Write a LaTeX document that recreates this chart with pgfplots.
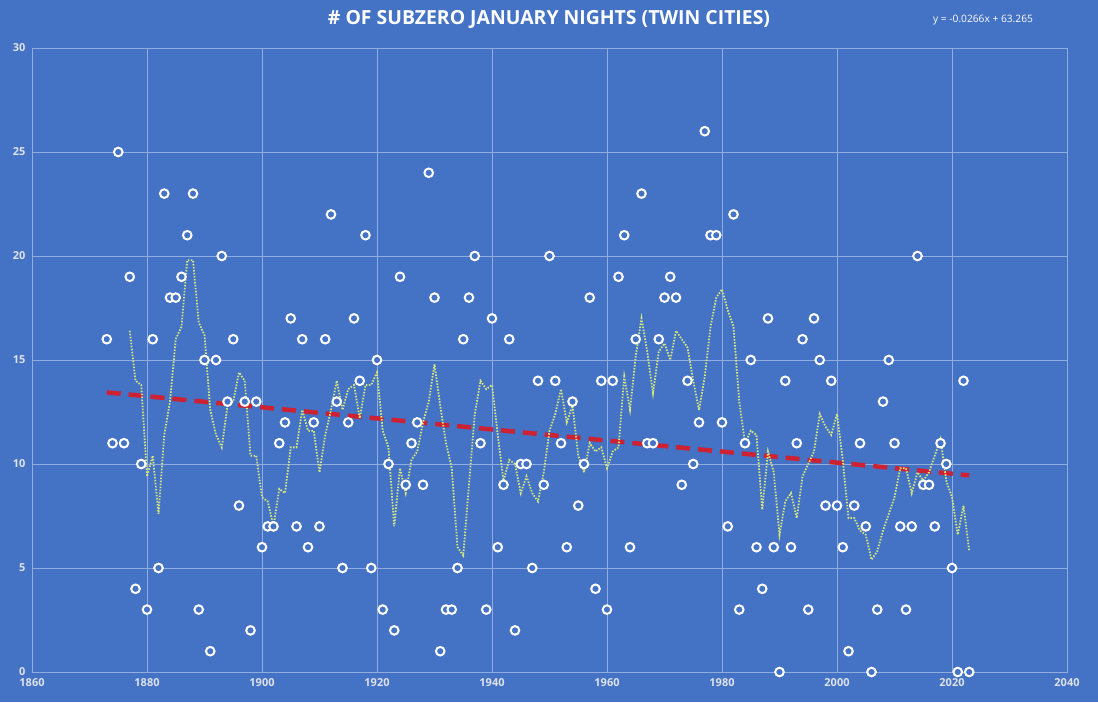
\documentclass[border=0pt]{standalone}
\usepackage{fontspec}
\setmainfont{Open Sans}
\usepackage{pgfplots}
\usepackage{pgfplotstable}
\pgfplotsset{compat=1.18}
\definecolor{bgblue}{RGB}{68,114,196}
\definecolor{gridc}{RGB}{145,172,222}
\definecolor{maline}{RGB}{214,232,125}
\definecolor{trend}{RGB}{204,34,52}
\definecolor{lbl}{RGB}{222,226,236}

\pgfplotstableread{
year n
1873 16
1874 11
1875 25
1876 11
1877 19
1878 4
1879 10
1880 3
1881 16
1882 5
1883 23
1884 18
1885 18
1886 19
1887 21
1888 23
1889 3
1890 15
1891 1
1892 15
1893 20
1894 13
1895 16
1896 8
1897 13
1898 2
1899 13
1900 6
1901 7
1902 7
1903 11
1904 12
1905 17
1906 7
1907 16
1908 6
1909 12
1910 7
1911 16
1912 22
1913 13
1914 5
1915 12
1916 17
1917 14
1918 21
1919 5
1920 15
1921 3
1922 10
1923 2
1924 19
1925 9
1926 11
1927 12
1928 9
1929 24
1930 18
1931 1
1932 3
1933 3
1934 5
1935 16
1936 18
1937 20
1938 11
1939 3
1940 17
1941 6
1942 9
1943 16
1944 2
1945 10
1946 10
1947 5
1948 14
1949 9
1950 20
1951 14
1952 11
1953 6
1954 13
1955 8
1956 10
1957 18
1958 4
1959 14
1960 3
1961 14
1962 19
1963 21
1964 6
1965 16
1966 23
1967 11
1968 11
1969 16
1970 18
1971 19
1972 18
1973 9
1974 14
1975 10
1976 12
1977 26
1978 21
1979 21
1980 12
1981 7
1982 22
1983 3
1984 11
1985 15
1986 6
1987 4
1988 17
1989 6
1990 0
1991 14
1992 6
1993 11
1994 16
1995 3
1996 17
1997 15
1998 8
1999 14
2000 8
2001 6
2002 1
2003 8
2004 11
2005 7
2006 0
2007 3
2008 13
2009 15
2010 11
2011 7
2012 3
2013 7
2014 20
2015 9
2016 9
2017 7
2018 11
2019 10
2020 5
2021 0
2022 14
2023 0
}\nights

\pgfplotstableread{
year ma
1877 16.4
1878 14.0
1879 13.8
1880 9.4
1881 10.4
1882 7.6
1883 11.4
1884 13.0
1885 16.0
1886 16.6
1887 19.8
1888 19.8
1889 16.8
1890 16.2
1891 12.6
1892 11.4
1893 10.8
1894 12.8
1895 13.0
1896 14.4
1897 14.0
1898 10.4
1899 10.4
1900 8.4
1901 8.2
1902 7.0
1903 8.8
1904 8.6
1905 10.8
1906 10.8
1907 12.6
1908 11.6
1909 11.6
1910 9.6
1911 11.4
1912 12.6
1913 14.0
1914 12.6
1915 13.6
1916 13.8
1917 12.2
1918 13.8
1919 13.8
1920 14.4
1921 11.6
1922 10.8
1923 7.0
1924 9.8
1925 8.6
1926 10.2
1927 10.6
1928 12.0
1929 13.0
1930 14.8
1931 12.8
1932 11.0
1933 9.8
1934 6.0
1935 5.6
1936 9.0
1937 12.4
1938 14.0
1939 13.6
1940 13.8
1941 11.4
1942 9.2
1943 10.2
1944 10.0
1945 8.6
1946 9.4
1947 8.6
1948 8.2
1949 9.6
1950 11.6
1951 12.4
1952 13.6
1953 12.0
1954 12.8
1955 10.4
1956 9.6
1957 11.0
1958 10.6
1959 10.8
1960 9.8
1961 10.6
1962 10.8
1963 14.2
1964 12.6
1965 15.2
1966 17.0
1967 15.4
1968 13.4
1969 15.4
1970 15.8
1971 15.0
1972 16.4
1973 16.0
1974 15.6
1975 14.0
1976 12.6
1977 14.2
1978 16.6
1979 18.0
1980 18.4
1981 17.4
1982 16.6
1983 13.0
1984 11.0
1985 11.6
1986 11.4
1987 7.8
1988 10.6
1989 9.6
1990 6.6
1991 8.2
1992 8.6
1993 7.4
1994 9.4
1995 10.0
1996 10.6
1997 12.4
1998 11.8
1999 11.4
2000 12.4
2001 10.2
2002 7.4
2003 7.4
2004 6.8
2005 6.6
2006 5.4
2007 5.8
2008 6.8
2009 7.6
2010 8.4
2011 9.8
2012 9.8
2013 8.6
2014 9.6
2015 9.2
2016 9.6
2017 10.4
2018 11.2
2019 9.2
2020 8.4
2021 6.6
2022 8.0
2023 5.8
}\movavg

\begin{document}
\begin{tikzpicture}[x=1pt,y=1pt]
\fill[bgblue] (0,0) rectangle (1098,702);
\begin{axis}[
  at={(32pt,30pt)}, anchor=south west,
  width=1035pt, height=624pt, scale only axis,
  xmin=1860, xmax=2040, ymin=0, ymax=30,
  xtick={1860,1880,...,2040}, ytick={0,5,...,30},
  grid=major,
  grid style={gridc, line width=0.9pt},
  axis line style={gridc, line width=0.9pt},
  major tick length=0pt,
  tick style={draw=none},
  ticklabel style={font=\bfseries\fontsize{11}{12}\selectfont, text=lbl},
  yticklabel style={xshift=-3pt},
  xticklabel style={yshift=-3pt},
  /pgf/number format/assume math mode=true,
  /pgf/number format/1000 sep={},
  clip=false,
]
\addplot[trend, line width=4.5pt, dash pattern=on 14pt off 8pt] coordinates {(1873,13.4432) (2023,9.4532)};
\addplot[maline, line width=1.8pt, dash pattern=on 1.5pt off 1.5pt] table[x=year,y=ma] {\movavg};
\addplot[only marks, mark=*, mark size=4.3pt, mark options={draw=white, fill=bgblue, line width=2pt}] table[x=year,y=n] {\nights};
\end{axis}
\node[font=\bfseries\fontsize{19.4}{20}\selectfont, text=white] at (549,682) {\# OF SUBZERO JANUARY NIGHTS (TWIN CITIES)};
\node[font=\fontsize{10.2}{10.5}\selectfont, text=white] at (983,682) {y = -0.0266x + 63.265};
\end{tikzpicture}
\end{document}
